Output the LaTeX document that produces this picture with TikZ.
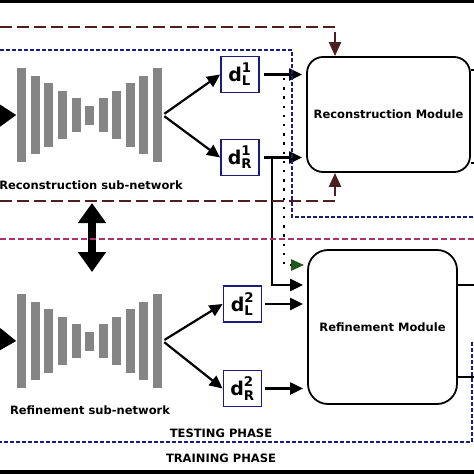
\documentclass[tikz,border=0pt]{standalone}
\usepackage{amsmath}
\usepackage{fontspec}
\setmainfont{DejaVu Sans}
\usetikzlibrary{arrows.meta}

\definecolor{darkbrown}{HTML}{4D1F22}
\definecolor{navyline}{HTML}{1C1C7A}
\definecolor{pinkline}{HTML}{A8336A}
\definecolor{tipgreen}{HTML}{1E5A1E}
\definecolor{bargray}{HTML}{858585}

\tikzset{
    module/.style={draw, line width=1.8pt, rounded corners=16pt,
        font=\bfseries\fontsize{11.5}{12}\selectfont},
    dbox/.style={draw=navyline, line width=1.8pt, minimum width=38pt,
        minimum height=36pt, inner sep=0pt, font=\bfseries\fontsize{19}{19}\selectfont},
    label/.style={font=\bfseries\fontsize{11.5}{12}\selectfont, inner sep=0pt},
    conn/.style={line width=2.2pt, -{Triangle[length=13pt,width=12pt]}},
    fbline/.style={darkbrown, line width=2.2pt, dash pattern=on 12pt off 5pt,
        -{Triangle[length=14pt,width=12pt]}},
    dotline/.style={line width=2.4pt, dash pattern=on 2.4pt off 6.8pt,
        -{Triangle[length=13pt,width=11pt,color=tipgreen,fill=tipgreen]}},
    phaseline/.style={navyline, line width=1.8pt, dash pattern=on 4pt off 2pt}
}

\begin{document}
\begin{tikzpicture}[x=1pt,y=-1pt]
    \useasboundingbox (0,0) rectangle (474,474);
    \clip (0,0) rectangle (474,474);
    \fill (0,0) rectangle (474,3);
    \fill (0,470) rectangle (474,474);

    % sub-networks
    \node[minimum width=146pt, minimum height=94pt, inner sep=0pt] (recnet) at (89.5,115) {};
    \node[minimum width=146pt, minimum height=94pt, inner sep=0pt] (refnet) at (89.5,341) {};
    \foreach \i/\h in {0/94,1/78,2/64,3/48,4/34,5/19,6/34,7/48,8/64,9/78,10/94} {
        \fill[bargray] (17.3+13.55*\i,115-\h/2) rectangle ++(9,\h);
        \fill[bargray] (17.3+13.55*\i,341-\h/2) rectangle ++(9,\h);
    }
    \node[label] (reclabel) at (91,185) {Reconstruction sub-network};
    \node[label] (reflabel) at (90,410) {Refinement sub-network};

    \draw[line width=4pt, -{Triangle[length=17pt,width=22pt]}] (-20,116) -- (recnet.west);
    \draw[line width=4pt, -{Triangle[length=17pt,width=22pt]}] (-20,338) -- (refnet.west);

    % disparity boxes
    \node[dbox] (dl1) at (240,74.5) {$\text{d}^{\text{1}}_{\text{L}}$};
    \node[dbox] (dr1) at (240,157.5) {$\text{d}^{\text{1}}_{\text{R}}$};
    \node[dbox] (dl2) at (242.5,304) {$\text{d}^{\text{2}}_{\text{L}}$};
    \node[dbox] (dr2) at (242.5,388.5) {$\text{d}^{\text{2}}_{\text{R}}$};

    \draw[conn, shorten <=2pt] (recnet.east) -- (dl1.west);
    \draw[conn, shorten <=2pt] (recnet.east) -- (dr1.west);
    \draw[conn, shorten <=2pt] (refnet.east) -- (dl2.west);
    \draw[conn, shorten <=2pt] (refnet.east) -- (dr2.west);

    % modules
    \node[module, minimum width=163pt, minimum height=115pt] (recmod) at (388.5,114.5) {Reconstruction Module};
    \node[module, minimum width=149pt, minimum height=154pt, rounded corners=20pt] (refmod) at (382.5,327) {Refinement Module};

    \draw[conn, shorten <=4pt, shorten >=4pt] (dl1.east) -- (dl1.east -| recmod.west);
    \draw[conn, shorten <=4pt, shorten >=4pt] (dr1.east) -- (dr1.east -| recmod.west);
    \draw[conn, shorten <=3pt, shorten >=4pt] (dl2.east) -- (dl2.east -| refmod.west);
    \draw[conn, shorten <=3pt, shorten >=4pt] (dr2.east) -- (dr2.east -| refmod.west);

    \coordinate (rsplit) at (272,157.5);
    \coordinate (lsplit) at (284,78);
    \draw[conn, shorten >=4pt] (rsplit) |- ([yshift=42pt]refmod.west);
    \draw[dotline, shorten >=3pt] (lsplit) |- ([yshift=62pt]refmod.west);

    % feedback lines
    \coordinate (fbtop) at (0,27);
    \coordinate (fbbot) at (0,201);
    \draw[fbline] (fbtop) -| ([xshift=-53.5pt]recmod.north);
    \draw[fbline] (fbbot) -| ([xshift=-53.5pt]recmod.south);

    \draw[line width=1.8pt] ([yshift=44.5pt]recmod.east) -- ++(8,0);
    \draw[line width=1.8pt] ([yshift=-48.5pt]recmod.east) -- ++(8,0);
    \draw[line width=1.8pt] ([yshift=42pt]refmod.east) -- ++(20,0);
    \draw[line width=1.8pt] ([yshift=-50pt]refmod.east) -- ++(20,0);

    % swap arrow
    \coordinate (swaptop) at (92,203);
    \coordinate (swapbot) at (92,272);
    \draw[line width=8pt, {Triangle[length=20pt,width=27pt]}-{Triangle[length=20pt,width=27pt]}] (swaptop) -- (swapbot);

    % phase borders
    \draw[phaseline] (0,50) -- (292,50) -- (292,217) -- (474,217);
    \draw[pinkline, line width=1.8pt, dash pattern=on 6pt off 3pt] (0,239) -- (474,239);
    \draw[phaseline] (472,342) -- (472,442) -- (0,442);
    \node[label] (testing) at (221,433) {TESTING PHASE};
    \node[label] (training) at (221,458) {TRAINING PHASE};
\end{tikzpicture}
\end{document}
